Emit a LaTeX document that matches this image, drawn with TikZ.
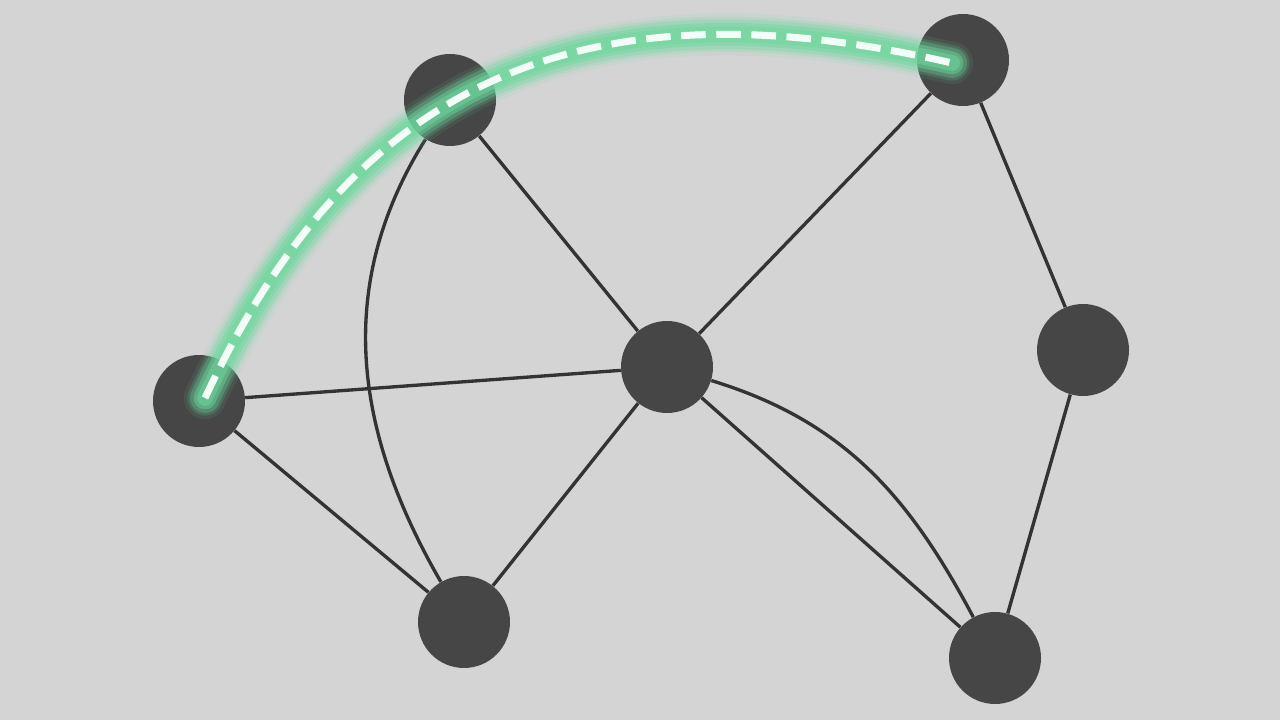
\documentclass[tikz,border=0pt]{standalone}
\usepackage{tikz}
\usetikzlibrary{positioning}
\definecolor{bgGray}{HTML}{D4D4D4}
\definecolor{vertexGray}{HTML}{464646}
\definecolor{edgeGray}{HTML}{333333}
\definecolor{glowGreen}{HTML}{6CD89E}
\tikzstyle{vertex}=[circle, fill=vertexGray, minimum size=1.84cm, inner sep=0pt]
\tikzstyle{edge}=[draw=edgeGray, line width=1.9pt]
\tikzstyle{glow}=[draw=glowGreen, line cap=round]
\tikzstyle{trail}=[draw=white!92!glowGreen, line width=4pt, dash pattern=on 14pt off 6pt]

\begin{document}
\begin{tikzpicture}[x=0.02cm, y=0.02cm]

        \fill[bgGray] (0,0) rectangle (1280,720);
        \useasboundingbox (0,0) rectangle (1280,720);

        \foreach \name/\x/\y in {v1/199/319, v2/450/620, v3/963/660, v4/667/353, v5/1083/370, v6/464/98, v7/995/62}{
            \node(\name)[vertex] at (\x,\y) {};
        };

        \foreach \from/\to in {v1/v4, v1/v6, v2/v4, v3/v4, v3/v5, v5/v7, v4/v6, v4/v7}{
            \draw[edge] (\from) -- (\to);
        };
        \draw[edge] (v2) to[out=-122, in=120] (v6);
        \draw[edge] (v4) to[out=-17, in=118] (v7);

        % highlighted path
        \coordinate (trailStart) at ([shift={(6,3)}]v1.center);
        \coordinate (trailEnd) at ([shift={(-11,-3)}]v3.center);
        \foreach \w/\o in {24pt/0.1, 20pt/0.18, 17pt/0.3, 13pt/0.45, 9pt/0.5}{
            \draw[glow, line width=\w, opacity=\o] (trailStart) .. controls +(65:340) and +(167:390) .. (trailEnd);
        };
        \draw[trail] (trailStart) .. controls +(65:340) and +(167:390) .. (trailEnd);

    \end{tikzpicture}
\end{document}
